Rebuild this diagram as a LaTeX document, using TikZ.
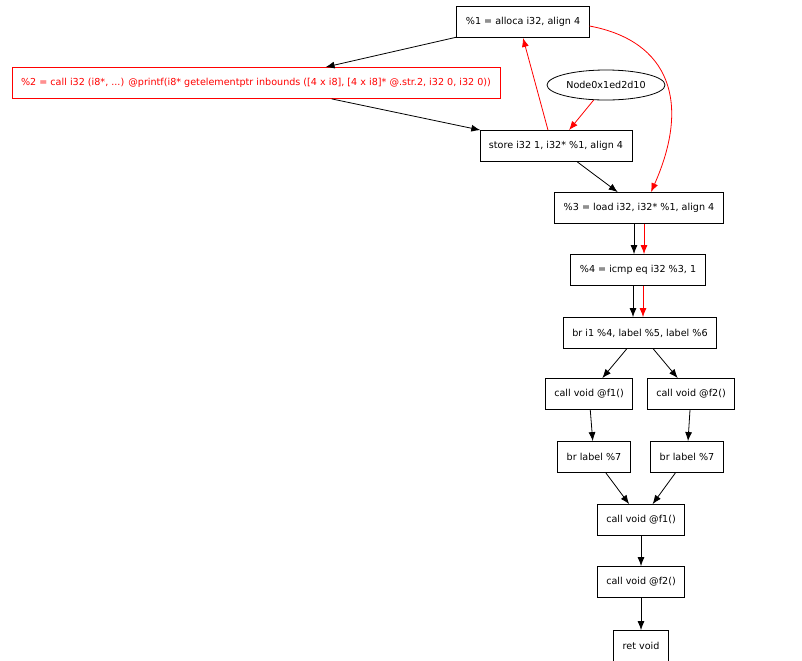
\documentclass[tikz,border=0pt]{standalone}
\usepackage{fontspec}
\setmainfont{DejaVu Sans}
\usetikzlibrary{shapes.geometric,arrows.meta}
\begin{document}
\begin{tikzpicture}[x=0.5pt, y=-0.5pt, >={Latex[length=4.5pt,width=3.5pt]},
 every edge/.style = {->, draw, thin},
 blk/.style = {rectangle, draw, fill=white, inner xsep=4.5pt, minimum height=15.5pt, font=\fontsize{4.8}{6}\selectfont},
 redblk/.style = {blk, draw=red, text=red}]

\useasboundingbox (0,0) rectangle (802,660);

\node(n1) [blk] at (523,22) {\%1 = alloca i32, align 4};
\node(n2) [redblk] at (256,83) {\%2 = call i32 (i8*, ...) @printf(i8* getelementptr inbounds ([4 x i8], [4 x i8]* @.str.2, i32 0, i32 0))};
\node(nd) [ellipse, draw, minimum width=59pt, minimum height=15pt, inner sep=0pt, font=\fontsize{4.8}{6}\selectfont] at (606,85) {Node0x1ed2d10};
\node(st) [blk] at (556,146) {store i32 1, i32* \%1, align 4};
\node(n3) [blk] at (639,208) {\%3 = load i32, i32* \%1, align 4};
\node(n4) [blk] at (638,270) {\%4 = icmp eq i32 \%3, 1};
\node(br) [blk] at (640,333) {br i1 \%4, label \%5, label \%6};
\node(ca) [blk] at (589,394) {call void @f1()};
\node(cb) [blk] at (691,394) {call void @f2()};
\node(ba) [blk] at (594,457) {br label \%7};
\node(bb) [blk] at (687,457) {br label \%7};
\node(cc) [blk] at (641,520) {call void @f1()};
\node(cd) [blk] at (641,582) {call void @f2()};
\node(rt) [blk] at (641,646) {ret void};
%
\path   (n1) edge (n2)
        (n2) edge (st)
        (st) edge (n3)
        ([xshift=-2.5pt]n3.south) edge ([xshift=-2.5pt]n3.south |- n4.north)
        ([xshift=-2.5pt]n4.south) edge ([xshift=-2.5pt]n4.south |- br.north)
        (br) edge (ca)
        (br) edge (cb)
        (ca) edge (ba)
        (cb) edge (bb)
        (ba) edge (cc)
        (bb) edge (cc)
        (cc) edge (cd)
        (cd) edge (rt);
\path[red] ([xshift=-4pt]st.north) edge (n1.south)
        (nd) edge (st)
        ([xshift=2.5pt]n3.south) edge ([xshift=2.5pt]n3.south |- n4.north)
        ([xshift=2.5pt]n4.south) edge ([xshift=2.5pt]n4.south |- br.north);
\draw[red,->,thin] ([yshift=-2pt]n1.east) .. controls +(80,15) and +(40,-90) .. ([xshift=6pt]n3.north);
\end{tikzpicture}
\end{document}
